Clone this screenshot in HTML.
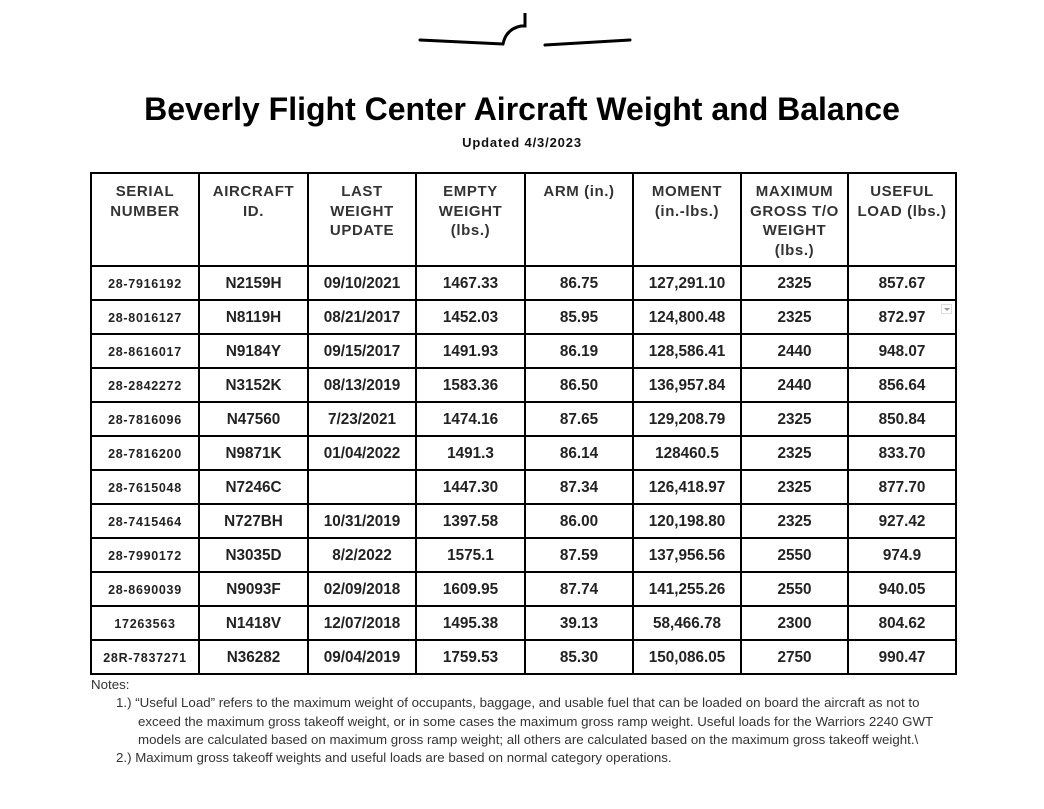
<!DOCTYPE html>
<html>
<head>
<meta charset="utf-8">
<style>
html,body{margin:0;padding:0;background:#fff;}
body{width:1044px;height:809px;position:relative;overflow:hidden;font-family:"Liberation Sans",Arial,sans-serif;}
.title{position:absolute;left:0;width:1044px;top:90px;text-align:center;font-weight:bold;font-size:32px;line-height:38px;color:#000;}
.upd{position:absolute;left:0;width:1044px;top:135px;text-align:center;font-weight:bold;font-size:13px;line-height:16px;color:#111;letter-spacing:0.85px;}
.grid{position:absolute;left:90px;top:172px;width:863px;height:499px;background:#000;padding:2px;display:grid;
grid-template-columns:106px 107px 106px 107px 106px 106px 105px 106px;grid-template-rows:91px repeat(12,32px);gap:2px;}
.grid div{background:#fff;display:flex;align-items:center;justify-content:center;font-weight:bold;font-size:15.3px;color:#222;white-space:nowrap;padding-top:2px;box-sizing:border-box;}
.grid div.h{align-items:flex-start;padding-top:8px;box-sizing:border-box;font-size:15px;line-height:19.5px;color:#333;text-align:center;letter-spacing:0.6px;}
.grid div.s{font-size:12.5px;letter-spacing:0.7px;}
.notes{position:absolute;left:91px;top:676px;font-size:13.3px;line-height:18.3px;color:#333;white-space:nowrap;}
.notes .i1{padding-left:25px;}
.notes .i2{padding-left:47px;}
.dd{position:absolute;left:941px;top:304px;width:9px;height:8px;border:1px solid #ddd;background:#fff;}
.dd:after{content:"";position:absolute;left:2px;top:3px;border-left:3px solid transparent;border-right:3px solid transparent;border-top:3px solid #999;}
</style>
</head>
<body>
<svg style="position:absolute;left:0;top:0" width="1044" height="60">
<path d="M420 40 L503 44" stroke="#000" stroke-width="3" fill="none" stroke-linecap="round"/>
<path d="M503 44 C505 34 511 28 521 26 L525 26 L525 13" stroke="#000" stroke-width="3" fill="none"/>
<path d="M545 45 L630 40" stroke="#000" stroke-width="3" fill="none" stroke-linecap="round"/>
</svg>
<div class="title">Beverly Flight Center Aircraft Weight and Balance</div>
<div class="upd">Updated 4/3/2023</div>
<div class="grid">
<div class="h">SERIAL<br>NUMBER</div><div class="h">AIRCRAFT<br>ID.</div><div class="h">LAST<br>WEIGHT<br>UPDATE</div><div class="h">EMPTY<br>WEIGHT<br>(lbs.)</div><div class="h">ARM (in.)</div><div class="h">MOMENT<br>(in.-lbs.)</div><div class="h">MAXIMUM<br>GROSS T/O<br>WEIGHT<br>(lbs.)</div><div class="h">USEFUL<br>LOAD (lbs.)</div>
<div class="s">28-7916192</div><div>N2159H</div><div>09/10/2021</div><div>1467.33</div><div>86.75</div><div>127,291.10</div><div>2325</div><div>857.67</div>
<div class="s">28-8016127</div><div>N8119H</div><div>08/21/2017</div><div>1452.03</div><div>85.95</div><div>124,800.48</div><div>2325</div><div>872.97</div>
<div class="s">28-8616017</div><div>N9184Y</div><div>09/15/2017</div><div>1491.93</div><div>86.19</div><div>128,586.41</div><div>2440</div><div>948.07</div>
<div class="s">28-2842272</div><div>N3152K</div><div>08/13/2019</div><div>1583.36</div><div>86.50</div><div>136,957.84</div><div>2440</div><div>856.64</div>
<div class="s">28-7816096</div><div>N47560</div><div>7/23/2021</div><div>1474.16</div><div>87.65</div><div>129,208.79</div><div>2325</div><div>850.84</div>
<div class="s">28-7816200</div><div>N9871K</div><div>01/04/2022</div><div>1491.3</div><div>86.14</div><div>128460.5</div><div>2325</div><div>833.70</div>
<div class="s">28-7615048</div><div>N7246C</div><div></div><div>1447.30</div><div>87.34</div><div>126,418.97</div><div>2325</div><div>877.70</div>
<div class="s">28-7415464</div><div>N727BH</div><div>10/31/2019</div><div>1397.58</div><div>86.00</div><div>120,198.80</div><div>2325</div><div>927.42</div>
<div class="s">28-7990172</div><div>N3035D</div><div>8/2/2022</div><div>1575.1</div><div>87.59</div><div>137,956.56</div><div>2550</div><div>974.9</div>
<div class="s">28-8690039</div><div>N9093F</div><div>02/09/2018</div><div>1609.95</div><div>87.74</div><div>141,255.26</div><div>2550</div><div>940.05</div>
<div class="s">17263563</div><div>N1418V</div><div>12/07/2018</div><div>1495.38</div><div>39.13</div><div>58,466.78</div><div>2300</div><div>804.62</div>
<div class="s">28R-7837271</div><div>N36282</div><div>09/04/2019</div><div>1759.53</div><div>85.30</div><div>150,086.05</div><div>2750</div><div>990.47</div>
</div>
<div class="dd"></div>
<div class="notes">
<div>Notes:</div>
<div class="i1">1.) “Useful Load” refers to the maximum weight of occupants, baggage, and usable fuel that can be loaded on board the aircraft as not to</div>
<div class="i2">exceed the maximum gross takeoff weight, or in some cases the maximum gross ramp weight. Useful loads for the Warriors 2240 GWT</div>
<div class="i2">models are calculated based on maximum gross ramp weight; all others are calculated based on the maximum gross takeoff weight.\</div>
<div class="i1">2.) Maximum gross takeoff weights and useful loads are based on normal category operations.</div>
</div>
</body>
</html>
